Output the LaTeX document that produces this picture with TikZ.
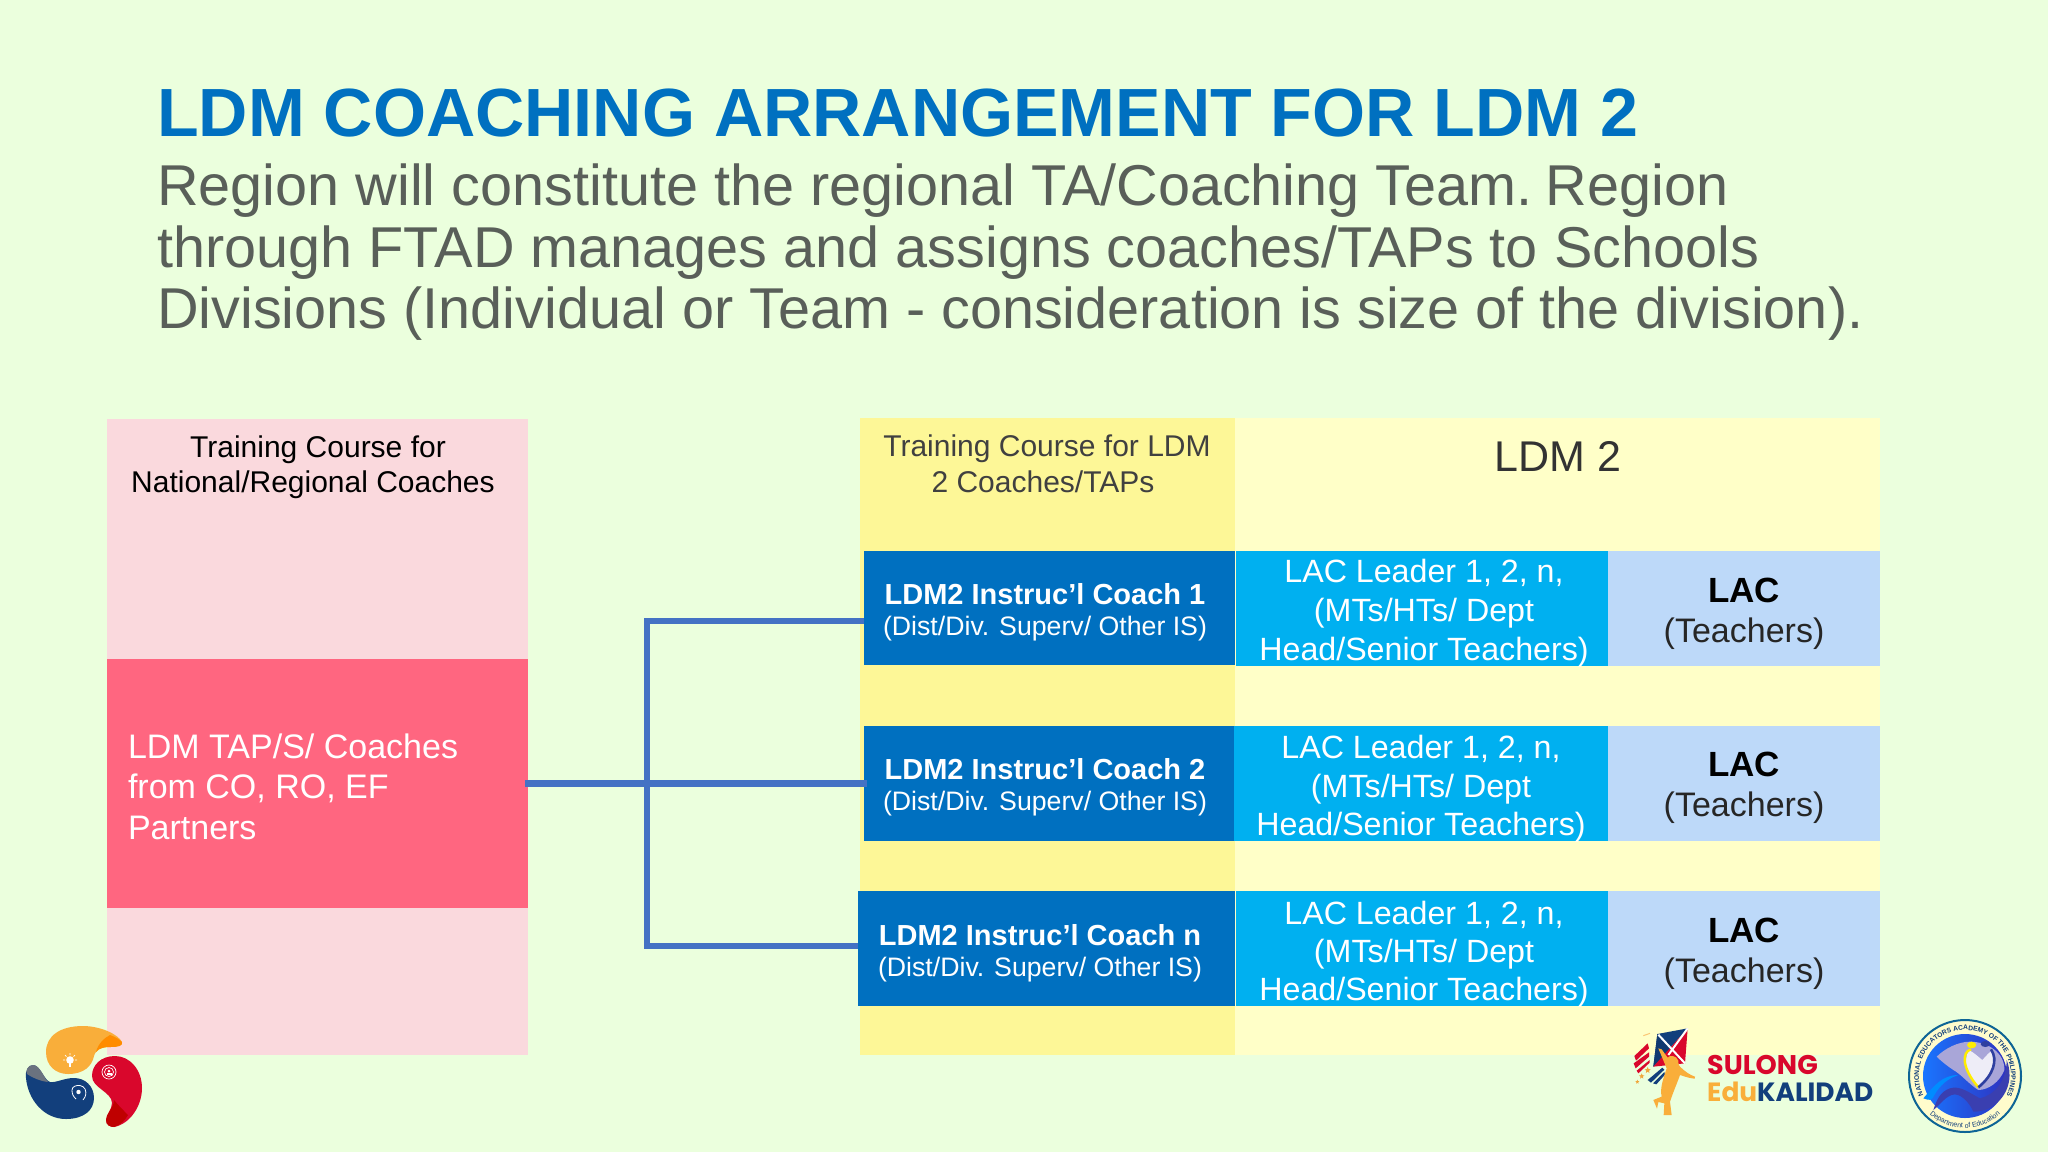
\documentclass[tikz,border=0pt]{standalone}
\usepackage{fontspec}
\setmainfont{Liberation Sans}
\newfontfamily\logofont{Poppins}
\usetikzlibrary{decorations.text,calc}
\definecolor{bgc}{HTML}{EBFFDD}
\definecolor{titlec}{HTML}{0070C0}
\definecolor{bodyc}{HTML}{595F59}
\definecolor{pinkc}{HTML}{FAD9DD}
\definecolor{redc}{HTML}{FF6680}
\definecolor{yelc}{HTML}{FDF797}
\definecolor{palec}{HTML}{FFFFC8}
\definecolor{coachc}{HTML}{0070C0}
\definecolor{leadc}{HTML}{00B0F0}
\definecolor{lacc}{HTML}{BDD9F9}
\definecolor{linec}{HTML}{4472C4}
\definecolor{navyc}{HTML}{123F7C}
\definecolor{orgc}{HTML}{F9AE3A}
\definecolor{crimc}{HTML}{D9072C}
\definecolor{lavc}{HTML}{A9A6D8}
\definecolor{purpc}{HTML}{3A3FB0}
\newcommand{\fs}[1]{\fontsize{#1}{#1}\selectfont}
\tikzset{
  panel/.style={anchor=north west,inner sep=0pt,outer sep=0pt,minimum width=#1},
  lbl/.style={inner sep=0pt,outer sep=0pt,anchor=center,align=center},
  ln/.style={draw=linec,line width=6.5pt,line cap=rect},
  logotxt/.style={inner sep=0pt,anchor=base west,font=\logofont\bfseries\fs{27}},
  zoomk/.style={shift={(1625,1020)},x=.3333pt,y=-.3333pt},
  zoomb/.style={shift={(1895,1010)},x=.3333pt,y=-.3333pt}
}
\begin{document}
\begin{tikzpicture}[x=1pt,y=-1pt]
\useasboundingbox[fill=bgc] (0,0) rectangle (2048,1152);
% title
\node[anchor=base west,inner sep=0pt,text=titlec,font=\bfseries\fs{68.2}] (title) at (157,136) {LDM COACHING ARRANGEMENT FOR LDM 2};
\node[anchor=base west,inner sep=0pt,text=bodyc,font=\fs{57.6}] (b1) at (157,205) {Region will constitute the regional TA/Coaching Team.\hspace{-8pt} Region};
\node[anchor=base west,inner sep=0pt,text=bodyc,font=\fs{57.6}] (b2) at (157,267) {through FTAD manages and assigns coaches/TAPs to Schools};
\node[anchor=base west,inner sep=0pt,text=bodyc,font=\fs{57.6}] (b3) at (157,328) {Divisions (Individual or Team - consideration is size of the division).};
% panels
\node[panel=421pt,minimum height=636pt,fill=pinkc] (pink) at (107,419) {};
\node[panel=421pt,minimum height=249pt,fill=redc] (red) at (107,659) {};
\node[panel=375pt,minimum height=637pt,fill=yelc] (yel) at (860,418) {};
\node[panel=645pt,minimum height=637pt,fill=palec] (pale) at (1235,418) {};
% rows
\node[panel=371pt,minimum height=114pt,fill=coachc] (c1) at (864,551) {};
\node[panel=371pt,minimum height=115pt,fill=coachc] (c2) at (864,726) {};
\node[panel=377pt,minimum height=115pt,fill=coachc] (c3) at (858,891) {};
\node[panel=372pt,minimum height=115pt,fill=leadc] (l1) at (1236,551) {};
\node[panel=374pt,minimum height=115pt,fill=leadc] (l2) at (1234,726) {};
\node[panel=372pt,minimum height=115pt,fill=leadc] (l3) at (1236,891) {};
\node[panel=272pt,minimum height=115pt,fill=lacc] (a1) at (1608,551) {};
\node[panel=272pt,minimum height=115pt,fill=lacc] (a2) at (1608,726) {};
\node[panel=272pt,minimum height=115pt,fill=lacc] (a3) at (1608,891) {};
% connectors
\coordinate (ttop) at (647,621);
\coordinate (tbot) at (647,946);
\coordinate (p1) at (861,621);
\coordinate (p3) at (855,946);
\draw[ln] (red.east) -- (c2.west);
\draw[ln] (p1) -- (ttop) -- (tbot) -- (p3);
% labels
\node[lbl,font=\fs{30}] (t1a) at (318,450) {Training Course for};
\node[lbl,font=\fs{30}] (t1b) at (313,485) {National/Regional Coaches};
\node[lbl,anchor=base west,text=white,font=\fs{34}] (r1) at (128,758) {LDM TAP/S/ Coaches};
\node[lbl,anchor=base west,text=white,font=\fs{34}] (r2) at (128,798) {from CO, RO, EF};
\node[lbl,anchor=base west,text=white,font=\fs{34}] (r3) at (128,839) {Partners};
\node[lbl,font=\fs{30},text=black!75] (t2a) at (1047,449) {Training Course for LDM};
\node[lbl,font=\fs{30},text=black!75] (t2b) at (1043,482) {2 Coaches/TAPs};
\node[lbl,font=\fs{43},text=black!80] (ldm) at (1558,456) {LDM 2};
\foreach \nm/\cx/\ya/\yb/\lab in {1/1045/594/629/1,2/1045/769/804/2,3/1040/935/970/n}{
  \node[lbl,text=white,font=\bfseries\fs{29}] (ch\nm) at (\cx,\ya) {LDM2 Instruc’l Coach \lab};
  \node[lbl,text=white,font=\fs{26.7}] (cs\nm) at (\cx,\yb) {(Dist/Div. Superv/ Other IS)};
}
\foreach \nm/\cx/\ya/\yb/\yc in {1/1424/573/613/652,2/1421/749/789/827,3/1424/915/954/992}{
  \node[lbl,text=white,font=\fs{32.2}] (la\nm) at (\cx,\ya) {LAC Leader 1, 2, n,};
  \node[lbl,text=white,font=\fs{32.2}] (lb\nm) at (\cx,\yb) {(MTs/HTs/ Dept};
  \node[lbl,text=white,font=\fs{32.2}] (lc\nm) at (\cx,\yc) {Head/Senior Teachers)};
}
\foreach \nm/\ya/\yb in {1/590/634,2/764/808,3/930/974}{
  \node[lbl,text=black,font=\bfseries\fs{35}] (ah\nm) at (1744,\ya) {LAC};
  \node[lbl,text=black!85,font=\fs{34}] (as\nm) at (1744,\yb) {(Teachers)};
}
% left logo
\fill[orgc] (122,1042) .. controls (118,1034) and (100,1026) .. (83,1026) .. controls (60,1026) and (46,1036) .. (46,1052) .. controls (46,1066) and (56,1074) .. (68,1074) .. controls (84,1074) and (92,1066) .. (94,1056) .. controls (96,1049) and (102,1047) .. (110,1047) .. controls (118,1047) and (123,1046) .. (122,1042) -- cycle;
\fill[orange!90!yellow] (122,1042) .. controls (120,1040) and (116,1037) .. (110,1035) .. controls (104,1038) and (98,1044) .. (96,1052) .. controls (99,1048) and (104,1047) .. (110,1047) .. controls (118,1047) and (123,1046) .. (122,1042) -- cycle;
\fill[navyc] (33,1065) .. controls (28,1065) and (25,1071) .. (26,1078) .. controls (28,1100) and (44,1119) .. (66,1119) .. controls (84,1119) and (94,1110) .. (94,1098) .. controls (94,1086) and (85,1078) .. (74,1078) .. controls (64,1078) and (56,1083) .. (50,1082) .. controls (44,1080) and (40,1065) .. (33,1065) -- cycle;
\fill[gray!80!navyc] (33,1065) .. controls (28,1065) and (25,1071) .. (27,1074) .. controls (33,1078) and (40,1081) .. (48,1082) .. controls (44,1078) and (40,1065) .. (33,1065) -- cycle;
\fill[crimc] (115,1056) .. controls (101,1056) and (92,1065) .. (92,1076) .. controls (92,1088) and (112,1092) .. (112,1103) .. controls (112,1110) and (106,1114) .. (106,1120) .. controls (106,1125) and (110,1127) .. (114,1127) .. controls (130,1124) and (142,1106) .. (142,1088) .. controls (142,1070) and (130,1056) .. (115,1056) -- cycle;
\fill[red!75!black] (106,1120) .. controls (106,1125) and (110,1127) .. (114,1127) .. controls (121,1125) and (125,1120) .. (128,1115) .. controls (123,1110) and (118,1105) .. (114,1100) .. controls (114,1108) and (106,1114) .. (106,1120) -- cycle;
\fill[white] (70,1060) circle (3.8);
\fill[white] (68.7,1062) rectangle (71.3,1067);
\draw[white,line width=.7pt] (63,1060) -- (65,1060) (75,1060) -- (77,1060) (70,1055) -- (70,1053) (65,1055) -- (66.5,1056.5) (75,1055) -- (73.5,1056.5);
\draw[white,line width=.7pt] (109,1072) circle (7);
\draw[white,line width=.7pt] (109,1072) circle (4.5);
\fill[white] (109,1071) circle (1.5);
\fill[white] (106.5,1073) rectangle (111.5,1075);
\draw[white,line width=.8pt] (76,1099) .. controls (73,1096) and (72,1094) .. (72,1090) .. controls (72,1083) and (90,1083) .. (85,1097) -- (83,1100);
\fill[white] (78.5,1092) circle (2.2);
% sulong logo: kite, stripes, stars and child
\begin{scope}[zoomk]
\draw[orgc!70!white,line width=1pt] (55,47) -- (75,40);
\fill[navyc] (97,42) -- (188,25) -- (85,140) -- cycle;
\fill[navyc!90!black] (97,42) -- (85,140) -- (140,90) -- cycle;
\fill[crimc] (188,25) -- (180,130) -- (85,140) -- cycle;
\draw[white,line width=2pt] (188,25) -- (130,105) (100,44) -- (180,130);
\fill[crimc] (28,108) -- (68,70) -- (72,85) -- (33,122) -- cycle;
\fill[crimc] (26,130) -- (72,97) -- (72,110) -- (32,145) -- cycle;
\fill[crimc] (35,152) -- (74,120) -- (74,128) -- (40,160) -- cycle;
\fill[navyc] (68,180) -- (112,143) -- (118,149) -- (78,188) -- cycle;
\fill[navyc] (84,190) -- (118,156) -- (120,164) -- (94,193) -- cycle;
\fill[orgc] (100,85) -- (110,88) -- (128,113) .. controls (132,105) and (155,105) .. (160,122) .. controls (160,130) and (160,135) .. (165,140) .. controls (180,155) and (195,165) .. (210,170) -- (209,176) .. controls (195,175) and (180,170) .. (165,165) .. controls (158,185) and (145,215) .. (135,245) -- (140,285) -- (116,285) -- (118,250) -- (100,246) -- (96,266) -- (85,240) -- (110,230) .. controls (104,205) and (115,175) .. (125,145) -- cycle;
\foreach \sx/\sy/\sr in {68/150/9,50/168/8,37/185/6}{
  \fill[orgc!85!brown] (\sx,\sy-\sr) -- (\sx+.3*\sr,\sy-.3*\sr) -- (\sx+\sr,\sy-.2*\sr) -- (\sx+.45*\sr,\sy+.25*\sr) -- (\sx+.6*\sr,\sy+\sr) -- (\sx,\sy+.55*\sr) -- (\sx-.6*\sr,\sy+\sr) -- (\sx-.45*\sr,\sy+.25*\sr) -- (\sx-\sr,\sy-.2*\sr) -- (\sx-.3*\sr,\sy-.3*\sr) -- cycle;
}
\end{scope}
\node[logotxt,text=crimc] (sul) at (1707,1074) {SULONG};
\node[logotxt,text=navyc,font=\logofont\bfseries\fs{26.4}] (edu) at (1707,1101) {\textcolor{orgc}{Edu}KALIDAD};
% academy badge
\fill[white!80!yellow] (1965,1076) circle (56);
\draw[navyc!80!cyan,line width=2pt] (1965,1076) circle (56);
\shade[left color=blue!60!cyan!90!white,right color=purpc!80!blue] (1965,1076) circle (42);
\begin{scope}[zoomb]
\fill[lavc] (125,140) .. controls (150,115) and (190,95) .. (225,95) .. controls (280,95) and (330,130) .. (328,180) .. controls (315,215) and (280,240) .. (250,240) .. controls (225,225) and (195,190) .. (175,180) .. controls (160,170) and (140,155) .. (125,140) -- cycle;
\fill[purpc] (115,300) .. controls (125,270) and (135,245) .. (165,235) .. controls (195,225) and (225,250) .. (255,265) .. controls (300,255) and (335,210) .. (335,150) .. controls (355,200) and (340,260) .. (290,290) .. controls (270,303) and (250,305) .. (235,305) .. controls (225,280) and (195,245) .. (170,255) .. controls (145,265) and (135,285) .. (115,300) -- cycle;
\fill[blue!45!cyan] (85,265) .. controls (115,230) and (140,195) .. (190,195) .. controls (160,205) and (135,225) .. (118,255) .. controls (110,275) and (100,270) .. (85,265) -- cycle;
\fill[white!80!lavc] (222,120) .. controls (240,130) and (255,145) .. (262,150) .. controls (272,140) and (283,125) .. (292,122) .. controls (305,160) and (285,205) .. (250,232) .. controls (225,205) and (198,160) .. (222,120) -- cycle;
\draw[yellow!95!orange,line width=2.4pt] (228,118) .. controls (200,125) and (200,175) .. (250,232);
\draw[purpc!70!navyc,line width=2.6pt] (288,118) .. controls (310,150) and (295,195) .. (250,232);
\fill[yellow!95!orange] (230,105) ellipse (14 and 10);
\fill[purpc!70!navyc] (271,102) ellipse (14 and 9);
\end{scope}
\begin{scope}[shift={(1965,1076)},x=1pt,y=1pt]
  \path[decorate,decoration={text along path,text align=center,text={|\fontsize{6.7}{8}\selectfont\bfseries\color{navyc}|NATIONAL EDUCATORS ACADEMY OF THE PHILIPPINES}}]
    (205:46) arc[start angle=205,end angle=-25,radius=46];
  \path[decorate,decoration={text along path,text align=center,text={|\fontsize{7}{8}\selectfont\color{navyc}|Department of Education}}]
    (218:52) arc[start angle=218,end angle=322,radius=52];
\end{scope}
\end{tikzpicture}
\end{document}
